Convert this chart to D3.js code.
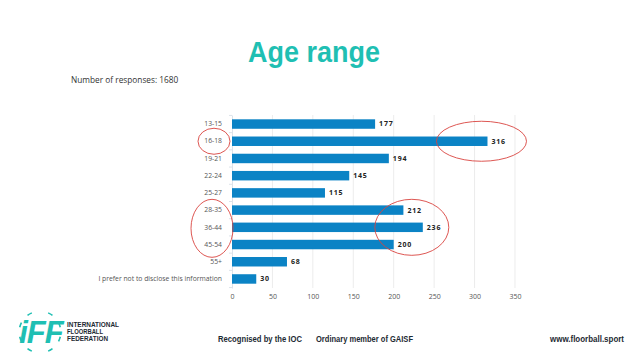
<!DOCTYPE html>
<html>
<head>
<meta charset="utf-8">
<script src="https://cdn.jsdelivr.net/npm/d3@7"></script>
<style>
  body { margin: 0; background: #fff; }
  svg { display: block; }
</style>
</head>
<body>
<div id="chart"></div>
<script>
const categories = ["13-15", "16-18", "19-21", "22-24", "25-27", "28-35", "36-44", "45-54", "55+", "I prefer not to disclose this information"];
const responses = [177, 316, 194, 145, 115, 212, 236, 200, 68, 30];
const xTicks = [0, 50, 100, 150, 200, 250, 300, 350];
const totalResponses = 1680;
// highlighted groups (red ellipses)
const labelHighlights = [["16-18"], ["28-35", "36-44", "45-54"]];
const valueHighlights = [["16-18"], ["28-35", "36-44", "45-54"]];

const W = 638, H = 359;
const plot = {left: 232, right: 520, top: 115, bottom: 288};
const teal = "#1fbfb3";
const barColor = "#0b83c5";

const svg = d3.select("#chart").append("svg")
    .attr("width", W)
    .attr("height", H);

// condensed look: no narrow font installed, so squeeze the glyphs
svg.append("text")
    .attr("x", 248)
    .attr("y", 62)
    .attr("textLength", 132)
    .attr("lengthAdjust", "spacingAndGlyphs")
    .attr("font-family", "'Liberation Sans', sans-serif")
    .attr("font-weight", "bold")
    .attr("font-size", 30)
    .attr("fill", teal)
    .text("Age range");

svg.append("text")
    .attr("x", 71)
    .attr("y", 83)
    .attr("font-family", "'Open Sans', sans-serif")
    .attr("font-size", 8.3)
    .attr("fill", "#333")
    .text("Number of responses: " + totalResponses);

const x = d3.scaleLinear()
    .domain([0, 350])
    .range([plot.left, plot.left + 350 * 0.8085]);

const y = d3.scaleBand()
    .domain(categories)
    .range([plot.top, plot.bottom])
    .paddingInner(0.45)
    .paddingOuter(0.25);

// grid lines
svg.append("g")
    .selectAll("line")
    .data(xTicks.slice(1))
    .join("line")
    .attr("x1", d => x(d))
    .attr("x2", d => x(d))
    .attr("y1", plot.top)
    .attr("y2", plot.bottom)
    .attr("stroke", "#ececec")
    .attr("stroke-width", 1);

// y axis
const yAxis = svg.append("g")
    .attr("transform", `translate(${plot.left},0)`)
    .call(d3.axisLeft(y).tickSize(0).tickPadding(10));
yAxis.select(".domain").attr("stroke", "#dde3ea");
yAxis.selectAll("text")
    .attr("font-family", "'Open Sans', sans-serif")
    .attr("font-size", 6.8)
    .attr("fill", "#555");

// small separator ticks between categories
const sepOffset = y.step() * y.paddingOuter() - y.step() * y.paddingInner() / 2;
svg.append("g")
    .selectAll("line")
    .data(d3.range(categories.length + 1))
    .join("line")
    .attr("x1", plot.left - 3)
    .attr("x2", plot.left)
    .attr("y1", i => plot.top + i * y.step() + sepOffset)
    .attr("y2", i => plot.top + i * y.step() + sepOffset)
    .attr("stroke", "#dde3ea");

// x axis
const xAxis = svg.append("g")
    .attr("transform", `translate(0,${plot.bottom})`)
    .call(d3.axisBottom(x).tickValues(xTicks).tickSize(0).tickPadding(6));
xAxis.select(".domain").remove();
xAxis.selectAll("text")
    .attr("font-family", "'Open Sans', sans-serif")
    .attr("font-size", 7)
    .attr("fill", "#555");

// bars
svg.append("g")
    .selectAll("rect")
    .data(responses)
    .join("rect")
    .attr("x", x(0))
    .attr("y", (d, i) => y(categories[i]))
    .attr("width", d => x(d) - x(0))
    .attr("height", y.bandwidth())
    .attr("fill", barColor);

// value labels
svg.append("g")
    .selectAll("text")
    .data(responses)
    .join("text")
    .attr("x", d => x(d) + 4)
    .attr("y", (d, i) => y(categories[i]) + y.bandwidth() / 2)
    .attr("dy", "0.35em")
    .attr("font-family", "'Open Sans', sans-serif")
    .attr("font-weight", "bold")
    .attr("font-size", 7)
    .attr("letter-spacing", 0.8)
    .attr("fill", "#222")
    .text(d => d);

// red ellipses
const ellipseG = svg.append("g")
    .attr("fill", "none")
    .attr("stroke", "#d9443f")
    .attr("stroke-width", 0.9);

function groupCenterY(group) {
    const ys = group.map(c => y(c) + y.bandwidth() / 2);
    return (d3.min(ys) + d3.max(ys)) / 2;
}

labelHighlights.forEach(group => {
    const single = group.length === 1;
    ellipseG.append("ellipse")
        .attr("cx", single ? 214 : 212)
        .attr("cy", groupCenterY(group) + (single ? 0 : 1))
        .attr("rx", single ? 16 : 21)
        .attr("ry", single ? 13 : 29);
});

valueHighlights.forEach(group => {
    const single = group.length === 1;
    const maxV = d3.max(group, c => responses[categories.indexOf(c)]);
    ellipseG.append("ellipse")
        .attr("cx", single ? x(maxV) - 6 : x(maxV) - 11)
        .attr("cy", groupCenterY(group))
        .attr("rx", single ? 45 : 37)
        .attr("ry", single ? 20 : 28);
});

// footer
const footerFont = "'Liberation Sans', sans-serif";
const logo = svg.append("g").attr("transform", "translate(40,332)");
const dashAngles = [-60, -20, 20, 60, 120, 160, 200, 240].map(a => a * Math.PI / 180);
logo.selectAll("path")
    .data(dashAngles)
    .join("path")
    .attr("d", a => d3.arc()({innerRadius: 20, outerRadius: 21.6, startAngle: a + Math.PI / 2 - 0.12, endAngle: a + Math.PI / 2 + 0.12}))
    .attr("fill", teal);
logo.append("text")
    .attr("x", 1)
    .attr("y", 11)
    .attr("text-anchor", "middle")
    .attr("font-family", "'Liberation Sans', sans-serif")
    .attr("font-weight", "bold")
    .attr("font-style", "italic")
    .attr("font-size", 31)
    .attr("letter-spacing", -1)
    .attr("fill", teal)
    .text("iFF");

[["INTERNATIONAL", 52], ["FLOORBALL", 36], ["FEDERATION", 41]].forEach(([t, len], i) => {
    svg.append("text")
        .attr("x", 67)
        .attr("y", 327 + i * 7.2)
        .attr("textLength", len)
        .attr("lengthAdjust", "spacingAndGlyphs")
        .attr("font-family", footerFont)
        .attr("font-weight", "bold")
        .attr("font-size", 7)
        .attr("fill", "#1d2a33")
        .text(t);
});

[["Recognised by the IOC", 218, 84], ["Ordinary member of GAISF", 316, 97], ["www.floorball.sport", 550, 74]].forEach(([t, px, len]) => {
    svg.append("text")
        .attr("x", px)
        .attr("y", 342)
        .attr("textLength", len)
        .attr("lengthAdjust", "spacingAndGlyphs")
        .attr("font-family", footerFont)
        .attr("font-weight", "bold")
        .attr("font-size", 8.5)
        .attr("fill", "#1d2a33")
        .text(t);
});
</script>
</body>
</html>
